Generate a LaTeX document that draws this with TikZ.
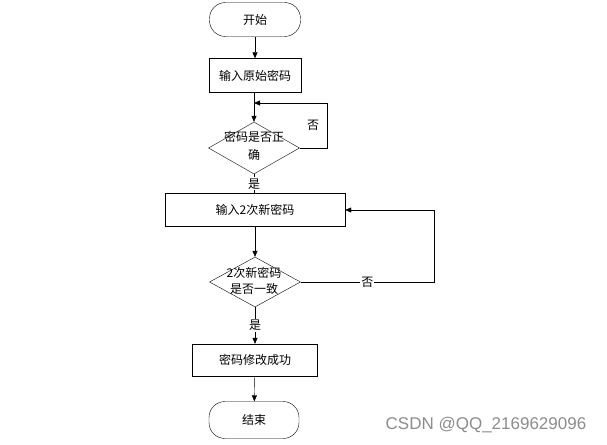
\documentclass[tikz,border=0pt]{standalone}
\usepackage{fontspec}
\newfontfamily\cjk{Noto Sans CJK SC}
\newfontfamily\wmfont{Liberation Sans}
\usetikzlibrary{shapes.geometric,arrows.meta}
\begin{document}
\begin{tikzpicture}[x=1pt,y=-1pt,font=\cjk\fontsize{12}{16}\selectfont]
\tikzstyle{every node}+=[inner sep=0pt]
\tikzstyle{term}=[draw,rounded corners=16pt,minimum width=91pt,minimum height=34pt]
\tikzstyle{proc}=[draw,minimum height=34pt]
\tikzstyle{cond}=[draw,diamond,minimum width=91pt,minimum height=52pt]
\tikzstyle{arr}=[-{Triangle[length=6pt,width=5pt]}]
\tikzstyle{lbl}=[fill=white,inner sep=1pt]
\useasboundingbox (0,0) rectangle (607,444);
\node [term] (start) at (255,19.5) {开始};
\node [proc,minimum width=92pt] (inold) at (255,75.5) {输入原始密码};
\node [cond] (chk) at (254,148) {};
\node (chktxt) at (254,147) {\begin{tabular}{@{}c@{}}密码是否正\\[2pt]确\end{tabular}};
\node [proc,minimum width=180pt,minimum height=33pt] (innew) at (255,210) {输入2次新密码};
\node [cond,minimum height=50pt] (same) at (255,282) {};
\node (sametxt) at (254,282) {\begin{tabular}{@{}c@{}}2次新密码\\[0pt]是否一致\end{tabular}};
\node [proc,minimum width=125pt,minimum height=32pt] (done) at (255,360) {密码修改成功};
\node [term,minimum width=90pt,minimum height=37pt] (stop) at (254,420) {结束};
\coordinate (j1) at (254,103);
\coordinate (c1) at (327,148);
\coordinate (c2) at (434,282);
\draw [arr] (start) -- (inold);
\draw [arr] (inold.south -| chk.north) -- (chk.north);
\draw [arr] (chk.east) -- (c1) |- (j1);
\node (no1) at (313,125) {否};
\draw (chk.south) -- node [lbl] (yes1) {是} (innew.north -| chk.south);
\draw [arr] (innew) -- (same);
\draw [arr] (same.east) -- node [lbl,midway] (no2) {否} (c2) |- (innew.east);
\draw [arr] (same.south) -- node [lbl] (yes2) {是} (done.north);
\draw [arr] (done) -- (stop);
\node [font=\wmfont\fontsize{17}{20}\selectfont,text=black!45] (mark) at (486,425) {CSDN @QQ\_2169629096};
\end{tikzpicture}
\end{document}
